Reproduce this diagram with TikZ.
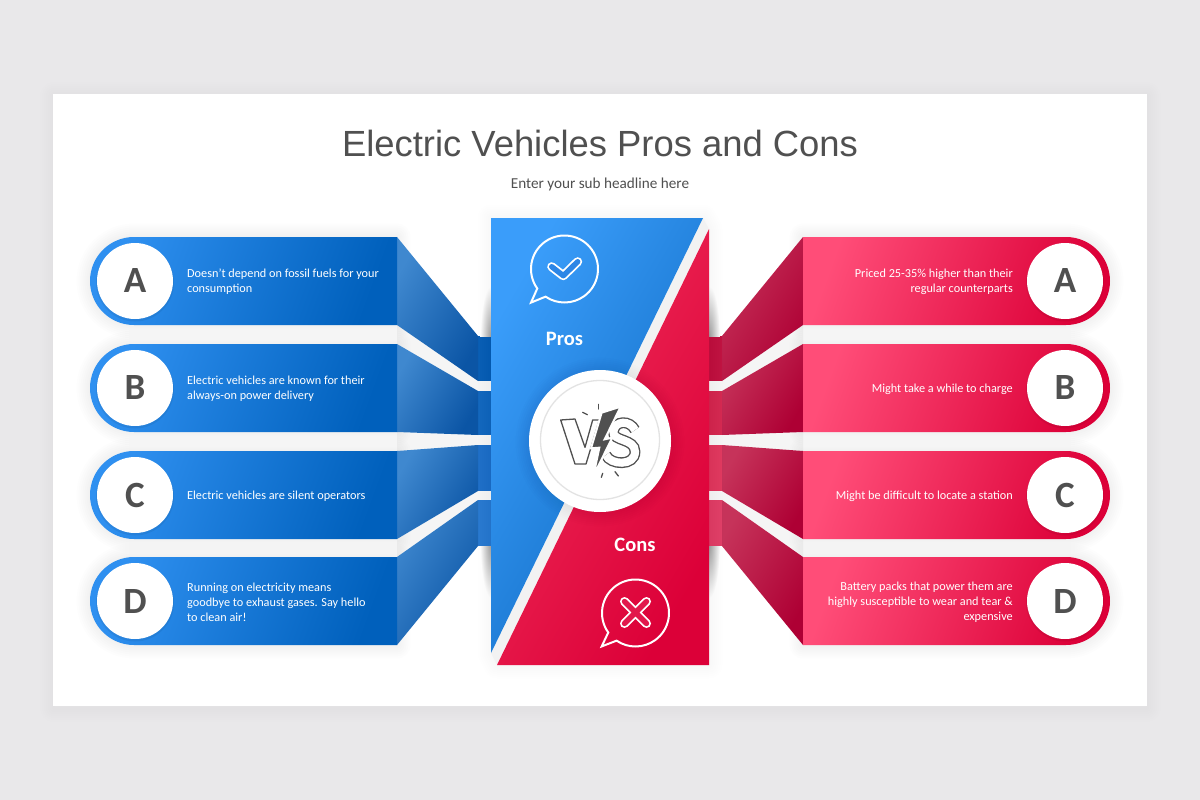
\documentclass[tikz,border=0pt]{standalone}
\usepackage{fontspec}
\setmainfont{Carlito}
\newfontfamily\titlefont{Liberation Sans}
\usetikzlibrary{positioning}
\definecolor{pagegray}{HTML}{E9E8EA}
\definecolor{inkgray}{HTML}{505050}
\definecolor{blueA}{HTML}{3A9DFA}
\definecolor{blueB}{HTML}{0060BC}
\definecolor{blueC}{HTML}{2C86E6}
\definecolor{blueD}{HTML}{2F90F0}
\definecolor{blueE}{HTML}{3F88CF}
\definecolor{blueF}{HTML}{0B55A5}
\definecolor{redA}{HTML}{FF4D78}
\definecolor{redB}{HTML}{DC0038}
\definecolor{redC}{HTML}{E2184C}
\definecolor{redD}{HTML}{F0305A}
\definecolor{redE}{HTML}{C6335A}
\definecolor{redF}{HTML}{AE0034}
\newcommand{\softshadow}[2][.009]{\foreach \w in {3,7,...,27}{\draw[line width=\w pt,black,opacity=#1,line join=round] #2;}}
\tikzset{
  bannertext/.style={text=white,font=\fontsize{12.25}{14.8}\selectfont,inner sep=0pt},
  letterdisc/.style={circle,fill=white,minimum size=76pt,inner sep=0pt,text=inkgray,font=\fontsize{37}{37}\selectfont\bfseries},
  headword/.style={text=white,font=\fontsize{20.5}{20.5}\selectfont\bfseries,inner sep=0pt},
  bubble/.style={draw=white,line width=2pt,line join=miter},
  glyphline/.style={draw=#1,line width=9pt,line cap=round,line join=round},
  vsline/.style={draw=inkgray,line width=1.3pt,line cap=round},
  vsletter/.style={draw=inkgray,line width=10.8pt,line join=miter},
  vsfill/.style={draw=white,line width=8.1pt,line join=miter}
}
\begin{document}
\begin{tikzpicture}[x=1pt,y=1pt,yscale=-1]
  \useasboundingbox (0,0) rectangle (1200,800);
  \fill[pagegray] (0,0) rectangle (1200,800);
  \softshadow[.004]{(53,96) rectangle (1147,708)}
  \fill[white] (53,94) rectangle (1147,706);

  \node[text=inkgray,font=\titlefont\fontsize{36.4}{37}\selectfont,inner sep=0pt] (title) at (600,143) {Electric Vehicles Pros and Cons};
  \node[text=inkgray,font=\fontsize{15.2}{16}\selectfont,inner sep=0pt] (subtitle) at (600,184) {Enter your sub headline here};

  % soft shade in the gaps
  \fill[black!4] (397,325) -- (478,381) -- (491,381) -- (491,391) -- (478,391) -- (397,344) -- cycle;
  \fill[black!4] (397,432) -- (478,435) -- (491,435) -- (491,445) -- (478,445) -- (397,451) -- cycle;
  \fill[black!4] (397,539) -- (478,491) -- (491,491) -- (491,500) -- (478,500) -- (397,557) -- cycle;
  \fill[black!4] (803,325) -- (722,381) -- (709,381) -- (709,391) -- (722,391) -- (803,344) -- cycle;
  \fill[black!4] (803,432) -- (722,435) -- (709,435) -- (709,445) -- (722,445) -- (803,451) -- cycle;
  \fill[black!4] (803,539) -- (722,491) -- (709,491) -- (709,500) -- (722,500) -- (803,557) -- cycle;

  % left side
  \foreach \t/\ptop/\pbot/\stubc/\lab/\txt in {
    237/336/381/0A5FB5/A/{Doesn't depend on fossil fuels for your\\consumption},
    344/391/435/1468BE/B/{Electric vehicles are known for their\\always-on power delivery},
    451/445/491/2070C8/C/{Electric vehicles are silent operators},
    557/500/546/2A7AD0/D/{Running on electricity means\\goodbye to exhaust gases. Say hello\\to clean air!}}{
    \pgfmathsetmacro{\b}{\t+88}
    \pgfmathsetmacro{\m}{\t+44}
    \definecolor{stubcol}{HTML}{\stubc}
    \softshadow{(134,\t) arc[start angle=270,end angle=90,radius=44] -- (397,\b) -- (397,\t) -- cycle}
    \fill[stubcol] (478,\ptop) rectangle (491,\pbot);
    \shade[left color=blueE,right color=blueF,shading angle=60] (397,\t) -- (478,\ptop) -- (478,\pbot) -- (397,\b) -- cycle;
    \shade[left color=blueD,right color=blueB,shading angle=70] (134,\t) arc[start angle=270,end angle=90,radius=44] -- (397,\b) -- (397,\t) -- cycle;
    \fill[black,opacity=.06] (135,\m+1.5) circle [radius=39];
    \node[letterdisc] (left\lab) at (135,\m) {\lab};
    \node[bannertext,align=left,anchor=west] (leftnote\lab) at (187,\m+1) {\txt};
  }

  % right side
  \foreach \t/\ptop/\pbot/\stubc/\lab/\txt in {
    237/336/381/C01442/A/{Priced 25-35\% higher than their\\regular counterparts},
    344/391/435/D42A52/B/{Might take a while to charge},
    451/445/491/E03A60/C/{Might be difficult to locate a station},
    557/500/546/E04068/D/{Battery packs that power them are\\highly susceptible to wear and tear \&\\expensive}}{
    \pgfmathsetmacro{\b}{\t+88}
    \pgfmathsetmacro{\m}{\t+44}
    \definecolor{stubcol}{HTML}{\stubc}
    \softshadow{(1066,\t) arc[start angle=-90,end angle=90,radius=44] -- (803,\b) -- (803,\t) -- cycle}
    \fill[stubcol] (709,\ptop) rectangle (722,\pbot);
    \shade[left color=redE,right color=redF,shading angle=60] (803,\t) -- (722,\ptop) -- (722,\pbot) -- (803,\b) -- cycle;
    \shade[left color=redA,right color=redB,shading angle=70] (1066,\t) arc[start angle=-90,end angle=90,radius=44] -- (803,\b) -- (803,\t) -- cycle;
    \fill[black,opacity=.06] (1065,\m+1.5) circle [radius=39];
    \node[letterdisc] (right\lab) at (1065,\m) {\lab};
    \node[bannertext,align=right,anchor=east] (rightnote\lab) at (1013,\m+1) {\txt};
  }

  % shade behind the middle panel
  \begin{scope}
    \clip (470,280) rectangle (491,336);
    \shade[inner color=black!38,outer color=white] (491,340) ellipse [x radius=11,y radius=54];
  \end{scope}
  \begin{scope}
    \clip (470,546) rectangle (491,610);
    \shade[inner color=black!38,outer color=white] (491,542) ellipse [x radius=11,y radius=56];
  \end{scope}
  \begin{scope}
    \clip (709,280) rectangle (730,336);
    \shade[inner color=black!38,outer color=white] (709,340) ellipse [x radius=11,y radius=54];
  \end{scope}
  \begin{scope}
    \clip (709,546) rectangle (730,610);
    \shade[inner color=black!38,outer color=white] (709,542) ellipse [x radius=11,y radius=56];
  \end{scope}

  % middle panel
  \softshadow[.003]{(491,218) -- (703,218) -- (709,229) -- (709,665) -- (497,665) -- (491,653) -- cycle}
  \fill[black!5] (703,218) -- (709,229) -- (497,665) -- (491,653) -- cycle;
  \shade[left color=blueA,right color=blueB!95!white,shading angle=60] (491,218) -- (703,218) -- (491,653) -- cycle;
  \shade[left color=redD,right color=redB,shading angle=60] (709,229) -- (709,665) -- (497,665) -- cycle;

  \node[headword] (pros) at (564.5,339) {Pros};
  \node[headword] (cons) at (635,545) {Cons};

  % tick bubble
  \coordinate (tick) at (564.5,269);
  \draw[bubble] (531,302.6) -- ([shift={(144.4:33.5)}]tick) arc[start angle=144.4,end angle=484.4,radius=33.5] -- cycle;
  \draw[glyphline=white] (551.7,266.7) -- (563.3,275.7) -- (577.7,261.7);
  \draw[glyphline=blueC,line width=5.4pt] (551.7,266.7) -- (563.3,275.7) -- (577.7,261.7);

  % cross bubble
  \coordinate (cross) at (635.5,613);
  \draw[bubble] (601.7,646.4) -- ([shift={(144.4:33.5)}]cross) arc[start angle=144.4,end angle=484.4,radius=33.5] -- cycle;
  \draw[glyphline=white] (624.5,601.5) -- (646.5,623.5) (646.5,601.5) -- (624.5,623.5);
  \draw[glyphline=redC,line width=5.4pt] (624.5,601.5) -- (646.5,623.5) (646.5,601.5) -- (624.5,623.5);

  % vs badge
  \softshadow[.007]{(600,442) circle [radius=71]}
  \node[circle,fill=white,minimum size=142pt,inner sep=0pt] (badge) at (600,441) {};
  \node[circle,draw=black!11,line width=1.3pt,minimum size=119pt,inner sep=0pt] (ring) at (600,440) {};
  \begin{scope}[shift={(530,370)},scale=1/3]
    \filldraw[fill=white,draw=inkgray,line width=1.3pt,line join=round] (92,150) -- (135,147) -- (165,232) -- (188,150) -- (208,150) -- (168,282) -- (135,282) -- cycle;
    \draw[vsletter] (315,180) .. controls (300,150) and (255,150) .. (250,185) .. controls (248,215) and (315,205) .. (315,245) .. controls (315,290) and (240,285) .. (228,255);
    \draw[vsfill] (315,180) .. controls (300,150) and (255,150) .. (250,185) .. controls (248,215) and (315,205) .. (315,245) .. controls (315,290) and (240,285) .. (228,255);
    \fill[inkgray,draw=white,line width=2pt] (272,110) -- (215,128) -- (183,235) -- (208,233) -- (190,318) -- (247,203) -- (224,208) -- cycle;
    \draw[vsline] (205,103) -- (205,117);
    \draw[vsline] (158,127) -- (172,134);
    \draw[vsline] (218,310) -- (214,322);
    \draw[vsline] (255,305) -- (265,318);
  \end{scope}
\end{tikzpicture}
\end{document}
